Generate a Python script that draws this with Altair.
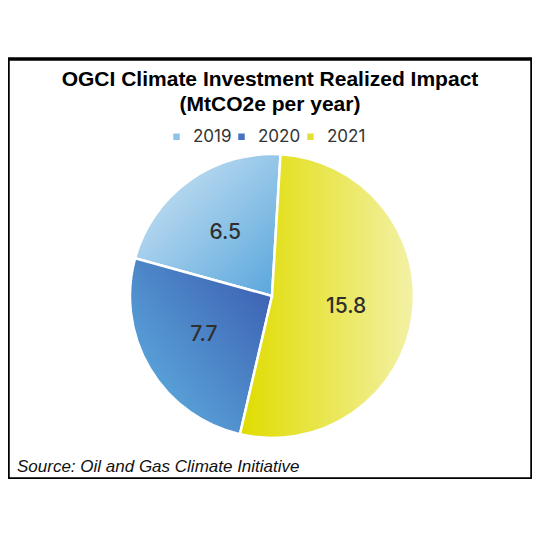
import math
import altair as alt
import pandas as pd

# ---- data ----
years = ["2019", "2020", "2021"]
values = [6.5, 7.7, 15.8]
stack_order = [3, 2, 1]          # 2021 drawn first from the top, then 2020, then 2019
labels = ["6.5", "7.7", "15.8"]
legend_colors = ["#8cc3ea", "#4a72c1", "#e3e036"]
title_lines = ["OGCI Climate Investment Realized Impact", "(MtCO2e per year)"]
source_text = ["Source: Oil and Gas Climate Initiative"]

gradients = {
    "2019": ("#d4e8f5", "#57a5dc", 0.0, 0.0, 1.0, 1.0),
    "2020": ("#3c60b2", "#5fafe0", 1.0, 0.15, 0.15, 1.0),
    "2021": ("#e0dc00", "#f3f1a6", 0.0, 0.5, 1.0, 0.5),
}

df = pd.DataFrame({"year": years, "value": values, "ord": stack_order, "label": labels})
total = float(sum(values))

W, H = 524, 420
CX, CY, R = 264, 237, 142
rot = 0.06
theta_scale = alt.Scale(domain=[0, total], range=[rot, rot + 2 * math.pi])

base = (
    alt.Chart(df)
    .transform_stack(stack="value", groupby=[], as_=["t0", "t1"],
                     sort=[alt.SortField("ord", order="ascending")])
    .transform_calculate(mid="(datum.t0 + datum.t1) / 2")
)

legend_layer = base.mark_arc(radius=R, stroke="white", strokeWidth=2).encode(
    theta=alt.Theta("t0:Q", scale=theta_scale),
    theta2="t1:Q",
    x=alt.value(CX),
    y=alt.value(CY),
    color=alt.Color(
        "year:N",
        scale=alt.Scale(domain=years, range=legend_colors),
        legend=alt.Legend(
            title=None,
            orient="none",
            direction="horizontal",
            legendX=160,
            legendY=69,
            symbolType="square",
            symbolSize=42,
            symbolStrokeWidth=0,
            labelFont="Inter",
            labelFontSize=17,
            labelColor="#333333",
            labelOffset=8,
            columnPadding=1,
        ),
    ),
)

layers = [legend_layer]
for yr in years:
    c0, c1, x1, y1, x2, y2 = gradients[yr]
    grad = alt.Gradient(
        gradient="linear",
        stops=[alt.GradientStop(color=c0, offset=0), alt.GradientStop(color=c1, offset=1)],
        x1=x1, y1=y1, x2=x2, y2=y2,
    )
    layers.append(
        base.transform_filter(alt.datum.year == yr)
        .mark_arc(radius=R, fill=grad, stroke="white", strokeWidth=2.5)
        .encode(theta=alt.Theta("t0:Q", scale=theta_scale), theta2="t1:Q",
                x=alt.value(CX), y=alt.value(CY))
    )

text_layer = base.mark_text(radius=77, font="Inter", fontSize=21, fontWeight=500,
                            color="#2f2f2f").encode(
    theta=alt.Theta("mid:Q", scale=theta_scale),
    text="label:N",
    x=alt.value(CX - 2),
    y=alt.value(CY),
)
layers.append(text_layer)

one = pd.DataFrame({"k": [0]})
title_layer = alt.Chart(one).mark_text(
    text=title_lines, font="Liberation Sans", fontSize=21, fontWeight="bold",
    color="#000000", align="center", baseline="alphabetic", lineHeight=25,
).encode(x=alt.value(W / 2), y=alt.value(27))
source_layer = alt.Chart(one).mark_text(
    text=source_text, font="Liberation Sans", fontSize=17, fontStyle="italic",
    color="#111111", align="left", baseline="alphabetic",
).encode(x=alt.value(9), y=alt.value(413))
layers += [title_layer, source_layer]

chart = (
    alt.layer(*layers)
    .properties(width=W, height=H, autosize=alt.AutoSizeParams(type="none"),
                padding={"left": 0, "top": 51, "right": 0, "bottom": 0})
    .configure_view(stroke="#000000", strokeWidth=3.5)
)

chart.save("out.html", embed_options={"renderer": "svg", "actions": False})
